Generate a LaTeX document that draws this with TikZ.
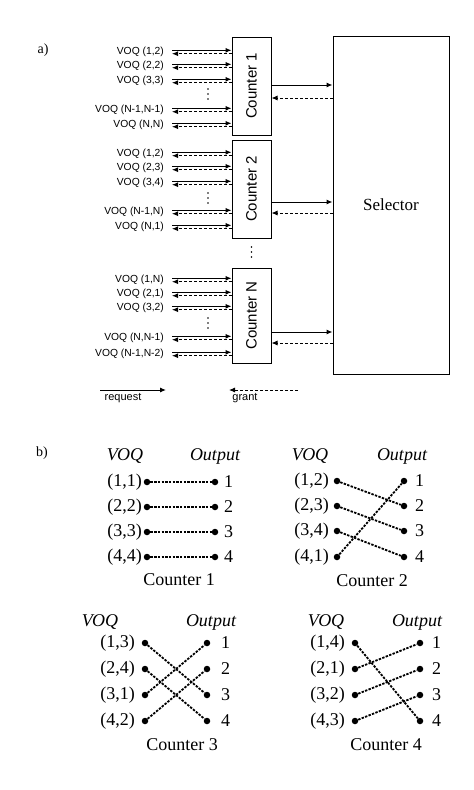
\documentclass[tikz,border=0pt]{standalone}
\usepackage{fontspec}
\usepackage{graphicx}
\setmainfont{Liberation Serif}
\newfontfamily\sansf{Liberation Sans}
\usetikzlibrary{arrows.meta,calc}
\tikzset{
  voq/.style={font=\sansf\fontsize{10.3}{11}\selectfont, inner sep=0pt},
  ctr/.style={draw, line width=1pt, minimum width=39pt, inner sep=0pt, font=\sansf\fontsize{15}{15}\selectfont},
  req/.style={-{Latex[length=6pt,width=5pt]}, line width=1pt},
  gnt/.style={-{Latex[length=6pt,width=5pt]}, line width=0.9pt, dash pattern=on 3pt off 2pt},
  bl/.style={font=\fontsize{18}{18}\selectfont, inner sep=0pt},
  it/.style={font=\itshape\fontsize{18}{18}\selectfont, inner sep=0pt},
  dot/.style={circle, fill, inner sep=0pt, minimum size=6.5pt},
  conn/.style={line width=1.8pt, dash pattern=on 2.4pt off 1.3pt},
  vd/.style={circle, fill, inner sep=0pt, minimum size=1.6pt}
}
\newcommand\vrow[4]{%
  \node[voq, anchor=east] (#1) at (164,#2) {#3};
  \draw[req] ($(#1.east)+(8,-1.7)$) -- ($(#4.west |- #1.east)+(0,-1.7)$);
  \draw[gnt] ($(#4.west |- #1.east)+(0,1.7)$) -- ($(#1.east)+(8,1.7)$);
}
\newcommand\vdotsat[3]{%
  \node[vd] (#1a) at (#2,#3-5) {};
  \node[vd] (#1b) at (#2,#3) {};
  \node[vd] (#1c) at (#2,#3+5) {};
}
\begin{document}
\begin{tikzpicture}[x=1pt,y=-1pt]
\useasboundingbox (0,0) rectangle (474,790);
% ---------- part a ----------
\node[font=\fontsize{14}{14}\selectfont, inner sep=0pt] (la) at (43,50) {a)};
\node[ctr, minimum height=98pt] (C1) at (251.5,86) {\rotatebox{90}{Counter 1}};
\node[ctr, minimum height=98pt] (C2) at (251.5,189) {\rotatebox{90}{Counter 2}};
\node[ctr, minimum height=95pt] (CN) at (251.5,315.5) {\rotatebox{90}{Counter N}};
\node[draw, line width=1pt, minimum width=116pt, minimum height=338pt, inner sep=0pt,
      font=\fontsize{17}{17}\selectfont] (Sel) at (391,205) {Selector};

\vrow{a11}{52}{VOQ (1,2)}{C1}
\vrow{a12}{66}{VOQ (2,2)}{C1}
\vrow{a13}{81}{VOQ (3,3)}{C1}
\vrow{a14}{110}{VOQ (N-1,N-1)}{C1}
\vrow{a15}{125}{VOQ (N,N)}{C1}
\vdotsat{e1}{208}{94}

\vrow{a21}{154}{VOQ (1,2)}{C2}
\vrow{a22}{168}{VOQ (2,3)}{C2}
\vrow{a23}{183}{VOQ (3,4)}{C2}
\vrow{a24}{212}{VOQ (N-1,N)}{C2}
\vrow{a25}{227}{VOQ (N,1)}{C2}
\vdotsat{e2}{208}{198}

\vdotsat{e3}{251.5}{252}

\vrow{a31}{280}{VOQ (1,N)}{CN}
\vrow{a32}{294}{VOQ (2,1)}{CN}
\vrow{a33}{308}{VOQ (3,2)}{CN}
\vrow{a34}{338}{VOQ (N,N-1)}{CN}
\vrow{a35}{354}{VOQ (N-1,N-2)}{CN}
\vdotsat{e4}{208}{323}

\draw[req] (C1.east |- 0,85) -- (Sel.west |- 0,85);
\draw[gnt] (Sel.west |- 0,98) -- (C1.east |- 0,98);
\draw[req] (C2.east |- 0,202) -- (Sel.west |- 0,202);
\draw[gnt] (Sel.west |- 0,213) -- (C2.east |- 0,213);
\draw[req] (CN.east |- 0,332) -- (Sel.west |- 0,332);
\draw[gnt] (Sel.west |- 0,343) -- (CN.east |- 0,343);

% legend
\coordinate (rq1) at (100,390);
\coordinate (rq2) at (166,390);
\draw[req] (rq1) -- (rq2);
\node[font=\sansf\fontsize{11}{11}\selectfont, inner sep=0pt] (rqt) at (123,398) {request};
\coordinate (gr1) at (298,390);
\coordinate (gr2) at (229,390);
\draw[gnt] (gr1) -- (gr2);
\node[font=\sansf\fontsize{11}{11}\selectfont, inner sep=0pt] (grt) at (245,398) {grant};

% ---------- part b ----------
\node[font=\fontsize{14}{14}\selectfont, inner sep=0pt] (lb) at (42,453) {b)};

% panel 1
\node[it] (v1) at (125,456) {VOQ};
\node[it] (o1) at (215,456) {Output};
\foreach \i/\lab/\y in {1/{(1,1)}/482, 2/{(2,2)}/507, 3/{(3,3)}/532, 4/{(4,4)}/557} {
  \node[bl, anchor=east] (p1l\i) at (142,\y) {\lab};
  \node[dot] (p1a\i) at (147,\y) {};
  \node[dot] (p1b\i) at (215,\y) {};
  \node[bl, anchor=west] (p1r\i) at (224,\y) {\i};
}
\draw[conn] (p1a1) -- (p1b1);
\draw[conn] (p1a2) -- (p1b2);
\draw[conn] (p1a3) -- (p1b3);
\draw[conn] (p1a4) -- (p1b4);
\node[bl] (n1) at (179,580) {Counter 1};

% panel 2
\node[it] (v2) at (310,456) {VOQ};
\node[it] (o2) at (402,456) {Output};
\foreach \i/\lab/\y in {1/{(1,2)}/481, 2/{(2,3)}/506, 3/{(3,4)}/531, 4/{(4,1)}/557} {
  \node[bl, anchor=east] (p2l\i) at (329,\y) {\lab};
  \node[dot] (p2a\i) at (337,\y) {};
  \node[dot] (p2b\i) at (404,\y) {};
  \node[bl, anchor=west] (p2r\i) at (415,\y) {\i};
}
\draw[conn] (p2a1) -- (p2b2);
\draw[conn] (p2a2) -- (p2b3);
\draw[conn] (p2a3) -- (p2b4);
\draw[conn] (p2a4) -- (p2b1);
\node[bl] (n2) at (372,581) {Counter 2};

% panel 3
\node[it] (v3) at (100,622) {VOQ};
\node[it] (o3) at (211,622) {Output};
\foreach \i/\lab/\y in {1/{(1,3)}/643, 2/{(2,4)}/669, 3/{(3,1)}/695, 4/{(4,2)}/721} {
  \node[bl, anchor=east] (p3l\i) at (135,\y) {\lab};
  \node[dot] (p3a\i) at (145,\y) {};
  \node[dot] (p3b\i) at (207,\y) {};
  \node[bl, anchor=west] (p3r\i) at (221,\y) {\i};
}
\draw[conn] (p3a1) -- (p3b3);
\draw[conn] (p3a2) -- (p3b4);
\draw[conn] (p3a3) -- (p3b1);
\draw[conn] (p3a4) -- (p3b2);
\node[bl] (n3) at (182,745) {Counter 3};

% panel 4
\node[it] (v4) at (326,622) {VOQ};
\node[it] (o4) at (417,622) {Output};
\foreach \i/\lab/\y in {1/{(1,4)}/643, 2/{(2,1)}/669, 3/{(3,2)}/695, 4/{(4,3)}/721} {
  \node[bl, anchor=east] (p4l\i) at (345,\y) {\lab};
  \node[dot] (p4a\i) at (355,\y) {};
  \node[dot] (p4b\i) at (420,\y) {};
  \node[bl, anchor=west] (p4r\i) at (432,\y) {\i};
}
\draw[conn] (p4a1) -- (p4b4);
\draw[conn] (p4a2) -- (p4b1);
\draw[conn] (p4a3) -- (p4b2);
\draw[conn] (p4a4) -- (p4b3);
\node[bl] (n4) at (386,745) {Counter 4};
\end{tikzpicture}
\end{document}
